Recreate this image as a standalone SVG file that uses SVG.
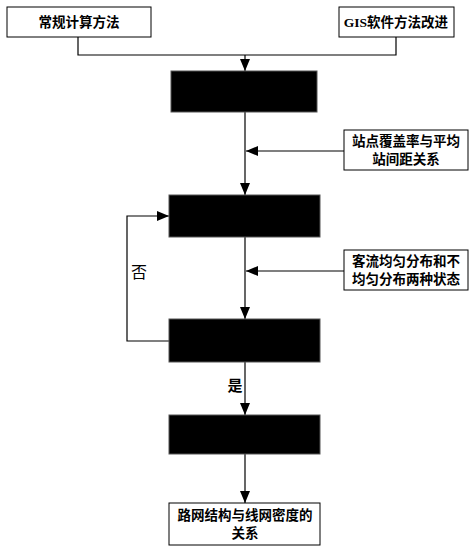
<svg xmlns="http://www.w3.org/2000/svg" width="474" height="551" viewBox="0 0 474 551">
<style>
.box{fill:#fff;stroke:#000;stroke-width:1}
.dark{fill:#000;stroke:#555;stroke-width:1}
.t{font-family:"Liberation Serif","Noto Sans CJK SC",serif;font-weight:bold;font-size:13.5px;fill:#000;text-anchor:middle}
.ln{fill:none;stroke:#000;stroke-width:1.2}
</style>
<defs>
<marker id="ah" viewBox="0 0 12 10" refX="12" refY="5" markerWidth="12" markerHeight="10" markerUnits="userSpaceOnUse" orient="auto">
<path d="M0,0 L12,5 L0,10 Z" fill="#000"/>
</marker>
</defs>
<rect width="474" height="551" fill="#fff"/>
<g id="connectors">
<path class="ln" d="M78,37 V55 H396 V37"/>
<path class="ln" d="M245,55 V71" marker-end="url(#ah)"/>
<path class="ln" d="M245,112 V195" marker-end="url(#ah)"/>
<path class="ln" d="M344,151 H246" marker-end="url(#ah)"/>
<path class="ln" d="M245,237 V319" marker-end="url(#ah)"/>
<path class="ln" d="M344,271 H246" marker-end="url(#ah)"/>
<path class="ln" d="M169,341 H127 V216 H169" marker-end="url(#ah)"/>
<path class="ln" d="M245,362 V415" marker-end="url(#ah)"/>
<path class="ln" d="M245,454 V503" marker-end="url(#ah)"/>
<text x="139" y="278" font-family="'Noto Sans CJK SC',sans-serif" font-size="16" text-anchor="middle">否</text>
<text x="235" y="391" font-family="'Noto Sans CJK SC',sans-serif" font-weight="bold" font-size="15" text-anchor="middle">是</text>
</g>
<g id="n1"><rect class="box" x="7" y="7" width="144" height="30"/><text class="t" x="79" y="27">常规计算方法</text></g>
<g id="n2"><rect class="box" x="339" y="7" width="115" height="30"/><text class="t" x="396" y="27">GIS软件方法改进</text></g>
<g id="n3"><rect class="dark" x="171" y="71" width="146" height="41"/></g>
<g id="n4"><rect class="box" x="344" y="130" width="124" height="40"/><text class="t" x="406" y="146">站点覆盖率与平均</text><text class="t" x="406" y="164">站间距关系</text></g>
<g id="n5"><rect class="dark" x="169" y="195" width="151" height="42"/></g>
<g id="n6"><rect class="box" x="344" y="250" width="124" height="40"/><text class="t" x="406" y="266">客流均匀分布和不</text><text class="t" x="406" y="284">均匀分布两种状态</text></g>
<g id="n7"><rect class="dark" x="169" y="319" width="151" height="43"/></g>
<g id="n8"><rect class="dark" x="169" y="415" width="151" height="39"/></g>
<g id="n9"><rect class="box" x="169" y="503" width="151" height="42"/><text class="t" x="245" y="520">路网结构与线网密度的</text><text class="t" x="245" y="538">关系</text></g>
</svg>
